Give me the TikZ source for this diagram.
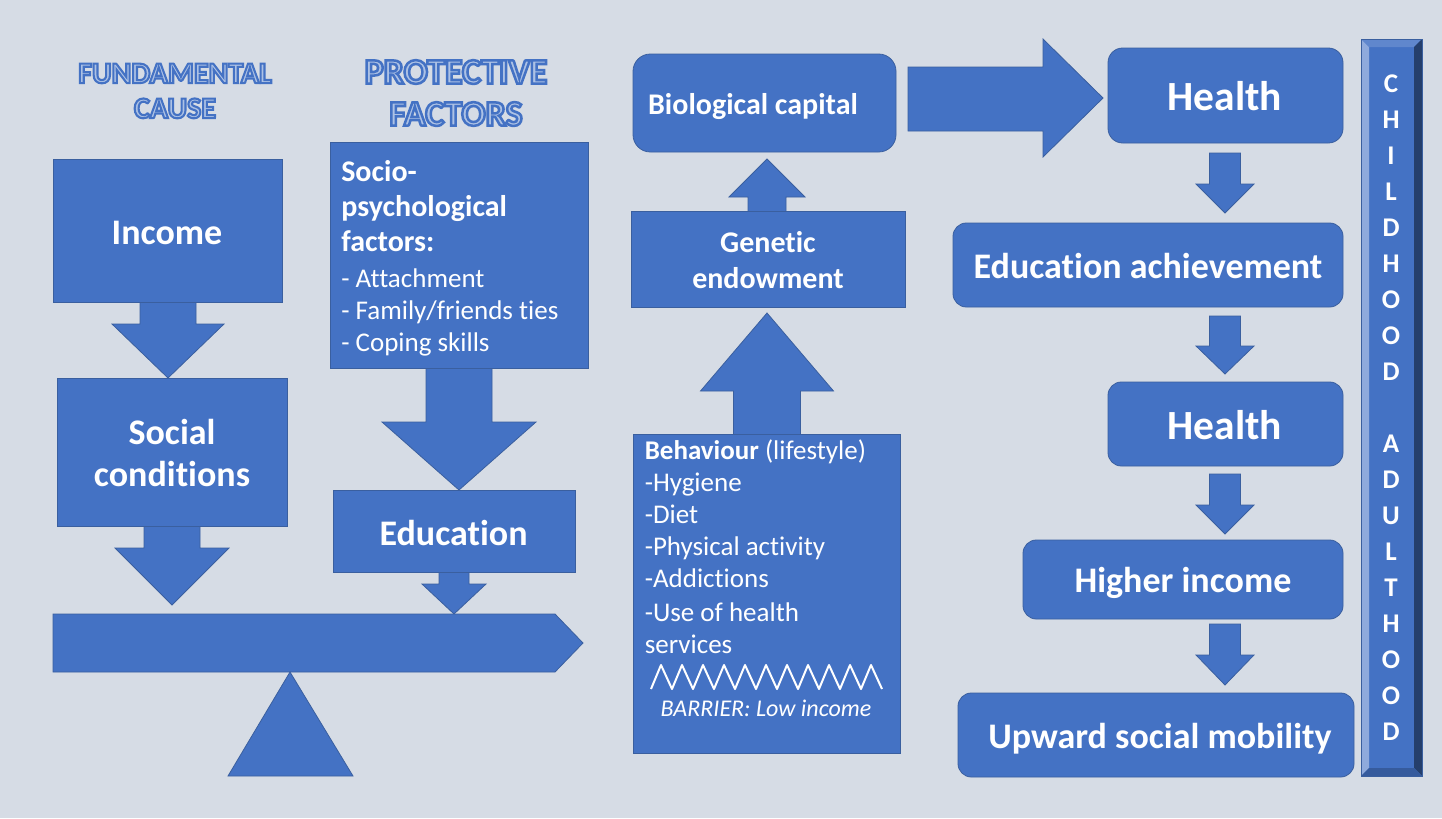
\documentclass[tikz,border=0pt]{standalone}
\usepackage{fontspec}
\setmainfont{Carlito}[RawFeature={-liga;-clig;-dlig}]
\newfontfamily\outfont[FakeBold=7]{Carlito Bold}
\definecolor{bgc}{HTML}{D6DCE5}
\definecolor{acc}{HTML}{4472C4}
\definecolor{edge}{HTML}{3A5F9F}
\newcommand{\pxfont}[2]{\fontsize{\dimexpr#1pt*3/4\relax}{\dimexpr#2pt*3/4\relax}\selectfont}
\newcommand{\outl}[1]{\special{pdf:bcolor [0.68 0.76 0.90] [0.267 0.447 0.769]}#1\special{pdf:ecolor}}
\newcommand{\bl}[1]{\pxfont{30}{35}\textbf{#1}}
\tikzset{
  x=0.75pt,y=-0.75pt,
  shapefill/.style={fill=acc,draw=edge,line width=0.6pt,line join=miter},
  boxnode/.style={shapefill,inner sep=0pt},
  txt/.style={text=white,inner sep=0pt,align=left,anchor=north west},
  lbl/.style={text=white,inner sep=0pt,align=center},
  head/.style={inner sep=0pt,align=center,anchor=center},
}
% cx, top, half shaft, neck y, half head, tip
\newcommand{\dnarrow}[6]{\draw[shapefill] (#1-#3,#2) -- (#1-#3,#4) -- (#1-#5,#4) -- (#1,#6) -- (#1+#5,#4) -- (#1+#3,#4) -- (#1+#3,#2) -- cycle;}
\newcommand{\boxat}[6]{\node[boxnode,minimum width=(#4-#2)*0.75pt,minimum height=(#5-#3)*0.75pt,#6] (#1) at ({(#2+#4)/2},{(#3+#5)/2}) {};}
\begin{document}
\begin{tikzpicture}
\useasboundingbox (0,0) rectangle (1442,818);
\fill[bgc] (0,0) rectangle (1442,818);
% arrows behind boxes
\dnarrow{168}{300}{28}{324}{56}{378}
\dnarrow{172}{524}{28}{548}{57}{605}
\dnarrow{459}{366}{33}{422}{77}{490}
\dnarrow{454}{570}{15}{584}{32}{614}
\dnarrow{767}{436}{33.5}{391}{66.5}{313}
\dnarrow{767}{213}{19}{197}{38}{159}
\dnarrow{1225}{153}{15.5}{184}{29}{213}
\dnarrow{1225}{316}{15.5}{346}{29}{374}
\dnarrow{1225}{474}{15.5}{505}{29}{534}
\dnarrow{1225}{624}{15.5}{655}{29}{685}
\draw[shapefill] (908,67) -- (1043,67) -- (1043,39) -- (1103,98) -- (1043,157) -- (1043,131) -- (908,131) -- cycle;
% square boxes
\boxat{income}{52.9}{158.9}{281.9}{301.9}{}
\boxat{social}{56.9}{377.9}{286.9}{525.9}{}
\boxat{socio}{329.9}{141.9}{587.9}{367.9}{}
\boxat{edu}{332.9}{489.9}{574.9}{571.9}{}
\boxat{behav}{632.9}{433.9}{899.9}{752.9}{}
\boxat{genetic}{630.9}{210.9}{904.9}{306.9}{}
% rounded boxes
\boxat{bio}{633}{54}{896}{152}{rounded corners=13pt}
\boxat{health}{1108}{48}{1343}{143}{rounded corners=11pt}
\boxat{achieve}{953}{223}{1343}{307}{rounded corners=10pt}
\boxat{healthb}{1108}{382}{1343}{466}{rounded corners=10pt}
\boxat{higher}{1023}{540}{1343}{619}{rounded corners=10pt}
\boxat{upward}{958}{693}{1354}{777}{rounded corners=10pt}
% lever
\draw[shapefill] (53,614) -- (555,614) -- (583,643) -- (555,672) -- (53,672) -- cycle;
\draw[shapefill] (228,776) -- (290,672) -- (353,776) -- cycle;
% bevel column
\fill[acc] (1361,39) rectangle (1422,776);
\fill[acc!60!white] (1361,39) -- (1369,47) -- (1369,768) -- (1361,776) -- cycle;
\fill[acc!85!white] (1361,39) -- (1422,39) -- (1414,47) -- (1369,47) -- cycle;
\fill[acc!55!black] (1422,39) -- (1422,776) -- (1414,768) -- (1414,47) -- cycle;
\fill[acc!80!black] (1361,776) -- (1369,768) -- (1414,768) -- (1422,776) -- cycle;
\draw[edge,line width=0.6pt] (1361,39) rectangle (1422,776);
\node[lbl,font=\pxfont{27}{36}\bfseries,anchor=north] (childtext) at (1391,75) {C\\H\\I\\L\\D\\H\\O\\O\\D\\[27pt]A\\D\\U\\L\\T\\H\\O\\O\\D};
% headings
\node[head,font=\outfont\pxfont{30}{35}] (fund) at (175,91) {\outl{FUNDAMENTAL}\\\outl{CAUSE}};
\node[head,font=\outfont\pxfont{36}{42}] (prot) at (456,93) {\outl{PROTECTIVE}\\\outl{FACTORS}};
% box texts
\node[lbl,font=\pxfont{36}{42}\bfseries] (tincome) at (167,233) {Income};
\node[lbl,font=\pxfont{36}{42}\bfseries] (tsocial) at (172,452.5) {Social\\conditions};
\node[lbl,font=\pxfont{36}{42}\bfseries] (tedu) at (453.5,533) {Education};
\node[txt,font=\pxfont{27}{32}] (tsocio) at (341,160) {\bl{Socio-}\\[2.25pt]\bl{psychological}\\[2.25pt]\bl{factors:}\\[3pt]- Attachment\\- Family/friends ties\\- Coping skills};
\node[txt,font=\pxfont{27}{32}] (tbehav) at (644.5,439) {\textbf{Behaviour} (lifestyle)\\-Hygiene\\-Diet\\-Physical activity\\-Addictions\\[1.5pt]-Use of health\\services};
\node[lbl,font=\pxfont{24}{26}\itshape] (tbarrier) at (766,708) {BARRIER: Low income};
\node[lbl,font=\pxfont{30}{36}\bfseries] (tgen) at (768,260) {Genetic\\endowment};
\node[lbl,font=\pxfont{30}{32}\bfseries] (tbio) at (753,106.5) {Biological capital};
\node[lbl,font=\pxfont{41.5}{44}\bfseries] (thealth) at (1225,96) {Health};
\node[lbl,font=\pxfont{36}{40}\bfseries] (tach) at (1148,266) {Education achievement};
\node[lbl,font=\pxfont{41.5}{44}\bfseries] (thealthb) at (1225,425) {Health};
\node[lbl,font=\pxfont{36}{40}\bfseries] (thigher) at (1183,583) {Higher income};
\node[lbl,font=\pxfont{36}{40}\bfseries] (tup) at (1160,739) {Upward social mobility};
% barrier zigzag
\draw[white,line width=1.5pt,line join=round]
 (651,689) -- (661,665) -- (672,689) -- (682,665) -- (693,689) -- (703,665) -- (714,689) -- (724,665) -- (735,689) -- (745,665) -- (756,689) -- (766,665) -- (777,689) -- (787,665) -- (798,689) -- (808,665) -- (819,689) -- (829,665) -- (840,689) -- (850,665) -- (861,689) -- (871,665) -- (882,689);
\end{tikzpicture}
\end{document}
